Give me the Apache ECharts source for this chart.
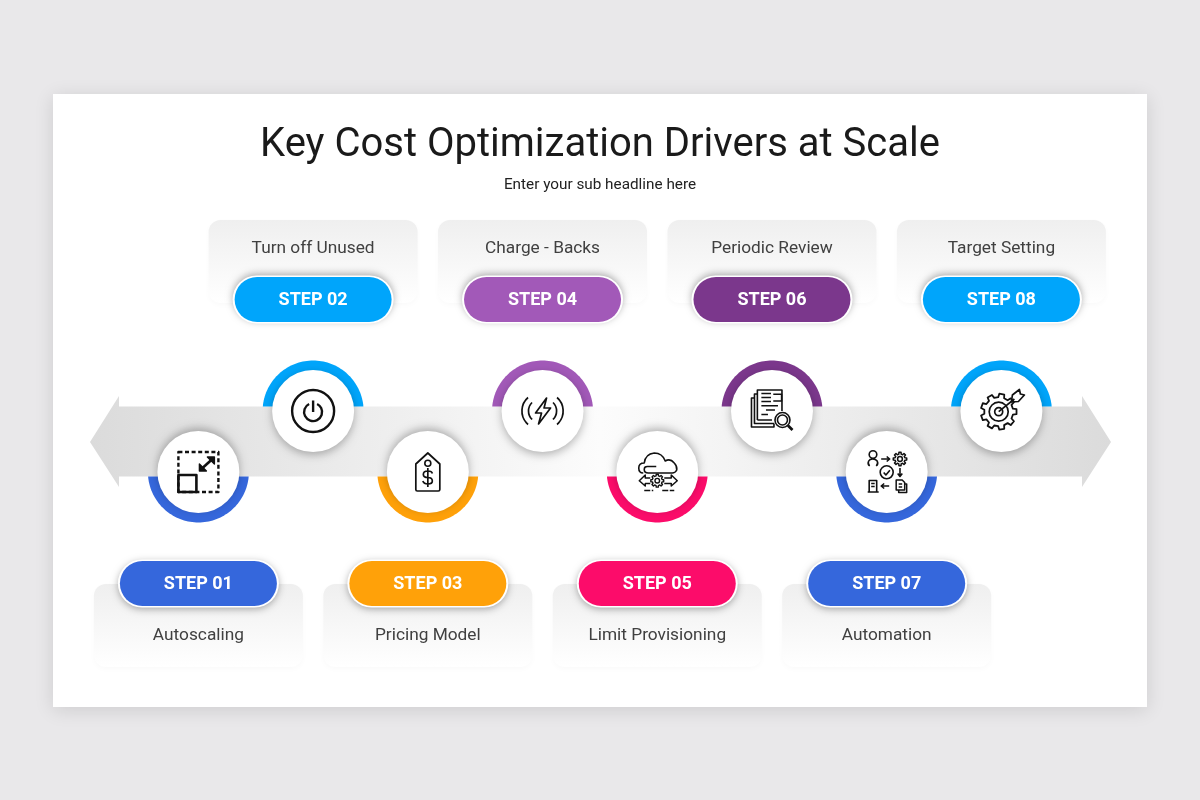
<!DOCTYPE html>
<html>

<head>
<meta charset="UTF-8">
<title>Key Cost Optimization Drivers at Scale</title>
<script src="https://cdn.jsdelivr.net/npm/echarts@6/dist/echarts.min.js"></script>
<style>
	html, body { margin: 0; padding: 0; background: #e9e8ea; }
	#chart { width: 1200px; height: 800px; }
</style>
</head>

<body>
	<div id="chart"></div>

	<script type="text/javascript">
	var titleText = 'Key Cost Optimization Drivers at Scale';
	var subText = 'Enter your sub headline here';
	var stepLabels = ['STEP 01', 'STEP 02', 'STEP 03', 'STEP 04', 'STEP 05', 'STEP 06', 'STEP 07', 'STEP 08'];
	var stepNames = ['Autoscaling', 'Turn off Unused', 'Pricing Model', 'Charge - Backs', 'Limit Provisioning', 'Periodic Review', 'Automation', 'Target Setting'];
	var stepSides = ['below', 'above', 'below', 'above', 'below', 'above', 'below', 'above'];
	var sideNames = ['below', 'above'];

	var palette = ['#3567dc', '#00a5fb', '#ffa109', '#a259b8', '#fc0c6a', '#7b378c', '#3567dc', '#00a5fb'];

	// small path helpers for the icons, all relative to the circle centre
	function circ(x, y, r) {
		return 'M' + (x - r) + ' ' + y + 'A' + r + ' ' + r + ' 0 1 0 ' + (x + r) + ' ' + y + 'A' + r + ' ' + r + ' 0 1 0 ' + (x - r) + ' ' + y + 'Z';
	}

	function gear(x, y, rOut, rIn, teeth) {
		var d = '';
		var step = Math.PI * 2 / teeth;
		for (var i = 0; i < teeth; i++) {
			var a = i * step;
			var list = [[rIn, a - step * 0.3], [rOut, a - step * 0.2], [rOut, a + step * 0.2], [rIn, a + step * 0.3]];
			for (var j = 0; j < 4; j++) {
				d += (d ? 'L' : 'M') + (x + list[j][0] * Math.cos(list[j][1])).toFixed(2) + ' ' + (y + list[j][0] * Math.sin(list[j][1])).toFixed(2);
			}
		}
		return d + 'Z';
	}

	var icons = [
		// resize
		[
			{ d: 'M-20 -20H20V20H-20Z', w: 2.4, dash: [4, 2.6] },
			{ d: 'M-20 3H-2V20H-20Z', w: 2.6 },
			{ d: 'M3 -3L14 -13', w: 2.6 },
			{ d: 'M9 -15H16V-8ZM1 -8V-1H8Z', w: 1.4, fill: '#111111' }
		],
		// power
		[
			{ d: circ(0, 0, 21), w: 2.4 },
			{ d: 'M-4 -7A9 9 0 1 0 4 -7M0 -10.5V1', w: 2.4 }
		],
		// price tag
		[
			{ d: 'M0 -19L12 -8V17.5Q12 19 10.5 19H-10.5Q-12 19 -12 17.5V-8Z', w: 1.7 },
			{ d: circ(0, -8.7, 3), w: 1.6 },
			{ d: 'M4.5 1.5Q4 -1 0 -1Q-4.5 -1 -4.5 2.5Q-4.5 5.5 0 5.5Q4.5 5.5 4.5 9Q4.5 12 0 12Q-4 12 -5 9M0 -4V15', w: 1.7 }
		],
		// bolt with waves
		[
			{ d: 'M4 -13L-7 2H-1L-4 13L8 -3H1.5Z', w: 1.7 },
			{ d: 'M-14.5 -13.5A18 18 0 0 0 -14.5 13.5M14.5 -13.5A18 18 0 0 1 14.5 13.5M-10.5 -8.5A12 12 0 0 0 -10.5 8.5M10.5 -8.5A12 12 0 0 1 10.5 8.5', w: 1.7 }
		],
		// cloud and gear
		[
			{ d: 'M-14 1Q-18.5 1 -18.5 -4Q-18.5 -9 -13 -9Q-12 -18 -3 -19Q5 -19 8 -11Q13 -14 17 -9Q20 -6 19.5 -2Q18 1 15 1H-9Q-13 1 -13 -2.5Q-13 -6 -9 -5.5H-1', w: 1.6 },
			{ d: gear(0, 8.7, 6.5, 5, 8) + circ(0, 8.7, 2.3), w: 1.4 },
			{ d: 'M-7 6H-12V3L-18 8.7L-12 14V11.5H-7M7 6H14V3L20 8.7L14 14V11.5H7', w: 1.5 },
			{ d: 'M-13 18.5H-4M5 18.5H17', w: 1.3, dash: [6, 1.5] }
		],
		// documents and magnifier
		[
			{ d: 'M-14.6 9V-21H10V0M-14.6 9H0', w: 1.6 },
			{ d: 'M-14.6 -17H-17.5V12.5H2M-17.5 -13H-20.5V16H2V12.5', w: 1.6 },
			{ d: 'M-10.6 -17.6H-1M-10.6 -13.6H-1M-10.6 -9.6H-1M1.3 -16.7H9.6V-10H1.3M-10.6 -5.3H6M-6 -1H3M-10.6 3.5H-4', w: 1.5 },
			{ d: circ(10.5, 9, 7.5) + circ(10.5, 9, 5), w: 1.6 },
			{ d: 'M16 14.5L20.5 19', w: 2.8 }
		],
		// workflow
		[
			{ d: circ(-13.7, -17.5, 3.8) + 'M-17 -6Q-19.5 -8 -18 -11Q-17 -13 -14 -13Q-11 -13 -9.5 -11Q-8 -8 -10.5 -6', w: 1.6 },
			{ d: 'M-5.5 -13H2.5M0 -15.5L3 -13L0 -10.5', w: 1.6 },
			{ d: gear(13.3, -13, 6.8, 5, 8) + circ(13.3, -13, 2.4), w: 1.5 },
			{ d: circ(0, 0.3, 6.5) + 'M-3 0.5L-0.8 3L3.2 -1.8', w: 1.6 },
			{ d: 'M13.3 -4V4M11 1.5L13.3 4.5L15.6 1.5', w: 1.6 },
			{ d: 'M-19 20H-8M-17.5 20V8.5H-10V20M-15.5 11.5H-12M-15.5 14.5H-12', w: 1.6 },
			{ d: 'M2.5 14H-5M-2.5 11.5L-5.5 14L-2.5 16.5', w: 1.6 },
			{ d: 'M9.5 8H15.5L18 10.5V18H9.5ZM18 12H20V20.5H12V18M12 12H15.5M12 15H15.5', w: 1.5 }
		],
		// gear with dart
		[
			{ d: gear(-2.7, 0.7, 18, 14.5, 9), w: 1.8 },
			{ d: circ(-2.7, 0.7, 9.5) + circ(-2.7, 0.7, 4), w: 1.7 },
			{ d: 'M-2.7 0.7L13 -12', w: 1.7 },
			{ d: 'M10 -9L11 -16L18 -21.5L19 -17L23 -16L17 -9.5Z', w: 1.7 }
		]
	];

	var cardFill = new echarts.graphic.LinearGradient(0, 0, 0, 1, [
		{ offset: 0, color: '#efefef' },
		{ offset: 1, color: '#ffffff' }
	]);

	// flat-ended half ring: a circle segment, the white disc goes over it
	function ringPoints(cx, cy, r, flat, sign) {
		var pts = [];
		var a0 = Math.asin(flat / r);
		for (var i = 0; i <= 72; i++) {
			var a = a0 + (Math.PI - 2 * a0) * i / 72;
			pts.push([cx + r * Math.cos(a), cy + sign * r * Math.sin(a)]);
		}
		return pts;
	}

	function renderStep(params, api) {
		var i = params.dataIndex;
		var pos = api.coord([api.value(0), api.value(1)]);
		var x = pos[0];
		var y = pos[1];
		var sign = stepSides[i] === 'below' ? 1 : -1;
		var pillY = y + sign * 111.5;
		var children = [];

		children.push({
			type: 'rect',
			shape: { x: x - 104.5, y: sign > 0 ? y + 112 : y - 191, width: 209, height: 83, r: 12 },
			style: { fill: cardFill, shadowBlur: 4, shadowOffsetY: 2, shadowColor: 'rgba(0,0,0,0.02)' }
		});
		children.push({
			type: 'text',
			style: { x: x, y: y + sign * 163 + 1, text: stepNames[i], align: 'center', verticalAlign: 'middle', font: '400 17.3px Roboto', fill: '#404040' }
		});
		// white edge carries the shadow, so the shadow stays off the colour
		children.push({
			type: 'rect',
			shape: { x: x - 80.5, y: pillY - 24, width: 161, height: 48, r: 24 },
			style: { fill: '#ffffff', shadowBlur: 7, shadowOffsetY: sign * 2, shadowColor: 'rgba(0,0,0,0.3)' }
		});
		children.push({
			type: 'rect',
			shape: { x: x - 78.5, y: pillY - 22.5, width: 157, height: 45, r: 22.5 },
			style: { fill: palette[i] }
		});
		children.push({
			type: 'text',
			style: { x: x, y: pillY + 1, text: stepLabels[i], align: 'center', verticalAlign: 'middle', font: '700 18px Roboto', fill: '#ffffff' }
		});
		children.push({
			type: 'polygon',
			shape: { points: ringPoints(x, y, 50.5, 4.6, sign) },
			style: { fill: palette[i] }
		});
		children.push({
			type: 'circle',
			shape: { cx: x, cy: y, r: 41 },
			style: { fill: '#ffffff', shadowBlur: 8, shadowOffsetY: -sign * 3, shadowColor: 'rgba(0,0,0,0.28)' }
		});
		icons[i].forEach(function (p) {
			children.push({
				type: 'path',
				x: x,
				y: y,
				shape: { pathData: p.d },
				style: { fill: p.fill || 'none', stroke: '#111111', lineWidth: p.w, lineDash: p.dash || null, lineJoin: 'round' }
			});
		});
		return { type: 'group', children: children };
	}

	var myChart = echarts.init(document.getElementById('chart'));

	var option = {
		backgroundColor: '#e9e8ea',
		animation: false,
		title: {
			text: titleText,
			subtext: subText,
			left: 'center',
			top: 121,
			itemGap: 12,
			textStyle: { fontFamily: 'Roboto', fontWeight: 400, fontSize: 40, color: '#1a1a1a' },
			subtextStyle: { fontFamily: 'Roboto', fontSize: 15.3, color: '#222222' }
		},
		grid: { left: 198.4, width: 803, top: 411, height: 61 },
		xAxis: { type: 'category', data: stepLabels, boundaryGap: false, show: false },
		yAxis: { type: 'category', data: sideNames, boundaryGap: false, show: false },
		graphic: [
			{
				type: 'rect',
				shape: { x: 53, y: 94, width: 1094, height: 613 },
				style: { fill: '#ffffff', shadowBlur: 18, shadowOffsetY: 3, shadowColor: 'rgba(0,0,0,0.12)' }
			},
			{
				type: 'polygon',
				shape: { points: [[90, 442], [119, 396], [119, 406.5], [1082, 406.5], [1082, 396], [1111, 442], [1082, 487], [1082, 476.5], [119, 476.5], [119, 487]] },
				style: {
					fill: new echarts.graphic.LinearGradient(0, 0, 1, 0, [
						{ offset: 0, color: '#dbdbdb' },
						{ offset: 0.5, color: '#fcfcfc' },
						{ offset: 1, color: '#dbdbdb' }
					])
				}
			}
		],
		series: [{
			type: 'custom',
			renderItem: renderStep,
			data: stepLabels.map(function (label, i) {
				return [label, stepSides[i]];
			}),
			silent: true
		}]
	};
	myChart.setOption(option);
	</script>
</body>
</html>
